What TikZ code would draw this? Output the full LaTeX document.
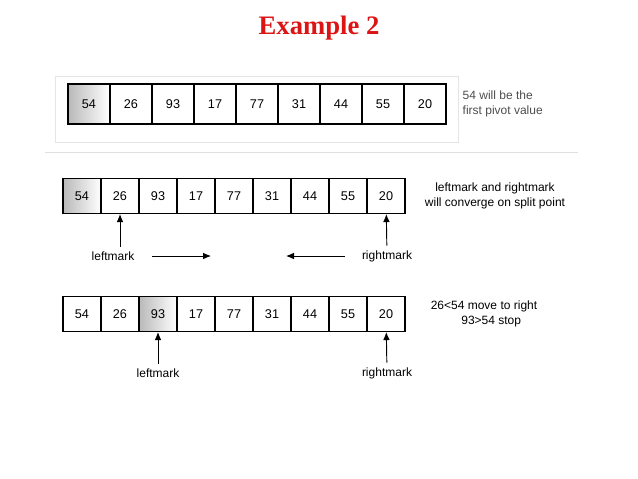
\documentclass[tikz,border=0pt]{standalone}
\usepackage{fontspec}
\setmainfont{Liberation Sans}
\newfontfamily\titlefont{Liberation Serif}
\usetikzlibrary{positioning,arrows.meta}
\definecolor{titlered}{RGB}{220,20,20}
\begin{document}
\begin{tikzpicture}[x=0.75pt,y=0.75pt,yscale=-1,xscale=1,
    cellbig/.style={draw,line width=1pt,minimum width=31.5pt,minimum height=30pt,inner sep=0pt,font=\fontsize{9.5}{10}\selectfont},
    cell/.style={draw,line width=0.8pt,minimum width=28.5pt,minimum height=26.25pt,inner sep=0pt,font=\fontsize{9.5}{10}\selectfont},
    pivot/.style={left color=gray!55,right color=white},
    note/.style={align=center,font=\fontsize{9}{11}\selectfont},
    marklbl/.style={font=\fontsize{9}{10}\selectfont},
    ptr/.style={-{Latex[length=6pt,width=5pt]},line width=0.7pt}]
    \useasboundingbox (0,0) rectangle (638,478);
    % title
    \node (title) at (319,28) {\titlefont\bfseries\color{titlered}\fontsize{20}{22}\selectfont Example 2};
    % row 1
    \draw [gray!20] (55,76) rectangle (458,142);
    \foreach \i/\v in {0/54,1/26,2/93,3/17,4/77,5/31,6/44,7/55,8/20}
        \node [cellbig] (a\i) at (89+\i*42,104) {\v};
    \node [cellbig,pivot] at (a0) {54};
    \node [note,align=left,anchor=west,gray!60!black] (n1) at (458,104) {54 will be the\\first pivot value};
    \draw [gray!25] (45,152) -- (578,152);
    % row 2
    \foreach \i/\v in {0/54,1/26,2/93,3/17,4/77,5/31,6/44,7/55,8/20}
        \node [cell] (b\i) at (82+\i*38,196) {\v};
    \node [cell,pivot] at (b0) {54};
    \node [note] (n2) at (495,196) {leftmark and rightmark\\will converge on split point};
    \node [marklbl] (lm1) at (113,256) {leftmark};
    \node [marklbl] (rm1) at (387,256) {rightmark};
    \draw [ptr] (b1 |- lm1.north) -- (b1);
    \draw [ptr] (rm1) -- (b8);
    \coordinate (la) at (152,256);
    \coordinate (lb) at (211,256);
    \coordinate (ra) at (345,256);
    \coordinate (rb) at (286,256);
    \draw [ptr] (la) -- (lb);
    \draw [ptr] (ra) -- (rb);
    % row 3
    \foreach \i/\v in {0/54,1/26,2/93,3/17,4/77,5/31,6/44,7/55,8/20}
        \node [cell] (c\i) at (82+\i*38,314) {\v};
    \node [cell,pivot] at (c2) {93};
    \node [note] (n3) at (484,314) {26<54 move to right\\\hspace*{1.2em}93>54 stop};
    \node [marklbl] (lm2) at (158,373) {leftmark};
    \node [marklbl] (rm2) at (387,373) {rightmark};
    \draw [ptr] (lm2) -- (c2);
    \draw [ptr] (rm2) -- (c8);
\end{tikzpicture}
\end{document}
